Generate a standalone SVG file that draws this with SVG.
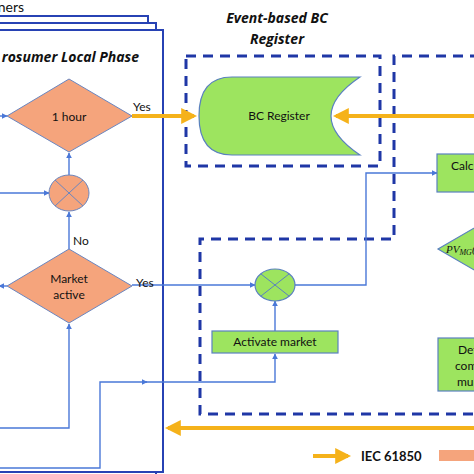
<svg xmlns="http://www.w3.org/2000/svg" width="474" height="474" viewBox="0 0 474 474">
<defs>
<style>
.frame{fill:#fff;stroke:#2742b4;stroke-width:2}
.dash{fill:none;stroke:#1f37a6;stroke-width:3;stroke-dasharray:10 7}
.con{fill:none;stroke:#4a78d8;stroke-width:1.4}
.iec{fill:none;stroke:#f5b21a;stroke-width:4}
.dia{fill:#f5a47c;stroke:#6a86c0;stroke-width:1}
.grn{fill:#9de45f;stroke:#5a80c0;stroke-width:1.2}
.lbl{font-family:Lato,"Liberation Sans",sans-serif;font-size:12px;fill:#111}
.ttl{font-family:"Open Sans","Liberation Sans",sans-serif;font-size:14px;font-weight:bold;font-style:italic;fill:#111}
</style>
<marker id="a" viewBox="0 0 10 10" refX="9" refY="5" markerWidth="6" markerHeight="6" orient="auto" markerUnits="userSpaceOnUse"><path d="M0,0 L10,5 L0,10 z" fill="#4a78d8"/></marker>
<marker id="o" viewBox="0 0 10 10" refX="8" refY="5" markerWidth="4" markerHeight="4.5" orient="auto"><path d="M0,0 L10,5 L0,10 z" fill="#f5b21a"/></marker>
</defs>
<g id="frames">
<rect class="frame" x="-20" y="16" width="168" height="460"/>
<rect class="frame" x="-20" y="23" width="176" height="460"/>
<rect class="frame" x="-20" y="30" width="183" height="442"/>
<text x="24" y="12" text-anchor="end" font-family="Lato,'Liberation Sans',sans-serif" font-size="14" fill="#111">ners</text>
<text class="ttl" x="139" y="62" text-anchor="end">rosumer Local Phase</text>
</g>
<g id="event-box">
<rect class="dash" x="186" y="56" width="194" height="110"/>
<text class="ttl" x="277" y="23" text-anchor="middle">Event-based BC</text>
<text class="ttl" x="277" y="44" text-anchor="middle">Register</text>
</g>
<g id="right-box">
<path class="dash" d="M480,56 L394,56 L394,239 L200,239 L200,414 L480,414"/>
</g>
<g id="connectors">
<path class="iec" d="M132,116 L194,116" marker-end="url(#o)"/>
<path class="iec" d="M480,116 L336,116" marker-end="url(#o)"/>
<path class="iec" d="M480,428 L168,428" marker-end="url(#o)"/>
<path class="con" d="M-5,116 L7,116" marker-end="url(#a)"/>
<path class="con" d="M0,193 L49,193" marker-end="url(#a)"/>
<path class="con" d="M69,175 L69,153" marker-end="url(#a)"/>
<path class="con" d="M69,249 L69,212" marker-end="url(#a)"/>
<path class="con" d="M7,286 L-1,286" marker-end="url(#a)"/>
<path class="con" d="M132,285 L255,285" marker-end="url(#a)"/>
<path class="con" d="M0,428 L69,428 L69,324" marker-end="url(#a)"/>
<path class="con" d="M0,468 L100,468 L100,382 L147,382"  marker-end="url(#a)"/>
<path class="con" d="M146,382 L275,382 L275,354" marker-end="url(#a)"/>
<path class="con" d="M275,331 L275,301" marker-end="url(#a)"/>
<path class="con" d="M295,285 L366,285 L366,173 L437,173" marker-end="url(#a)"/>
</g>
<g id="hour">
<polygon class="dia" points="7,116 69,79 132,116 69,152"/>
<text class="lbl" x="69" y="121" text-anchor="middle">1 hour</text>
<text class="lbl" x="133" y="111">Yes</text>
</g>
<g id="merge-orange">
<ellipse class="dia" cx="69" cy="193" rx="20" ry="18"/>
<path d="M55,180 L83,206 M83,180 L55,206" stroke="#6a86c0" stroke-width="1"/>
<text class="lbl" x="73" y="245">No</text>
</g>
<g id="market-active">
<polygon class="dia" points="7,286 69,249 132,286 69,323"/>
<text class="lbl" x="69" y="283" text-anchor="middle">Market</text>
<text class="lbl" x="69" y="299" text-anchor="middle">active</text>
<text class="lbl" x="136" y="287">Yes</text>
</g>
<g id="bc-register">
<path class="grn" d="M232,77 L360,77 Q302,116 360,155 L232,155 C210,155 199,142 199,116 C199,90 210,77 232,77 Z"/>
<text class="lbl" x="279" y="120" text-anchor="middle">BC Register</text>
</g>
<g id="merge-green">
<ellipse class="grn" cx="275" cy="285" rx="20" ry="16"/>
<path d="M261,274 L289,296 M289,274 L261,296" stroke="#5a80c0" stroke-width="1"/>
</g>
<g id="activate-market">
<rect class="grn" x="212" y="331" width="126" height="22"/>
<text class="lbl" x="275" y="346" text-anchor="middle">Activate market</text>
</g>
<g id="calc">
<rect class="grn" x="437" y="154" width="50" height="38"/>
<text class="lbl" x="451" y="170">Calc</text>
</g>
<g id="pvmg">
<polygon class="grn" points="438,249 500,213 562,249 500,285"/>
<text x="446" y="253" font-family="'Liberation Serif',serif" font-style="italic" font-size="11" fill="#111">PV<tspan font-size="8" dy="2">MG</tspan><tspan dy="-2">(</tspan></text>
</g>
<g id="det">
<rect class="grn" x="438" y="338" width="50" height="53"/>
<text class="lbl" x="458" y="354">Det</text>
<text class="lbl" x="455" y="370">com</text>
<text class="lbl" x="457" y="386">mu</text>
</g>
<g id="legend">
<path class="iec" d="M313,456 L348,456" marker-end="url(#o)"/>
<text x="361" y="461" font-family="Lato,'Liberation Sans',sans-serif" font-size="13" font-weight="bold" fill="#111">IEC 61850</text>
<rect x="439" y="450" width="40" height="11" fill="#f5a47c"/>
</g>
</svg>
